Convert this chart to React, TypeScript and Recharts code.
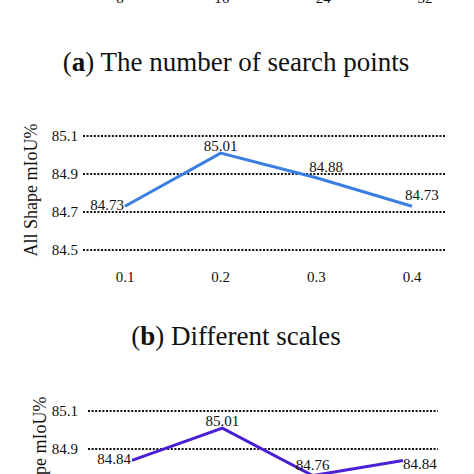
import React from "react";
import { LineChart, Line, XAxis, YAxis, CartesianGrid, LabelList, Label } from "recharts";

const pointCounts = ["8", "16", "24", "32"];
const scales = ["0.1", "0.2", "0.3", "0.4"];
const scaleMiou = [84.73, 85.01, 84.88, 84.73];
const thirdCats = ["a", "b", "c", "d"];
const thirdMiou = [84.84, 85.01, 84.76, 84.84];
const yTicks = [84.5, 84.7, 84.9, 85.1];
const yLabelText = "All Shape mIoU%";
const captionA = { tag: "a", text: " The number of search points" };
const captionB = { tag: "b", text: " Different scales" };

const dataA = pointCounts.map((c) => ({ cat: c }));
const dataB = scales.map((c, i) => ({ cat: c, v: scaleMiou[i] }));
const dataC = thirdCats.map((c, i) => ({ cat: c, v: thirdMiou[i] }));

const SERIF = "'Liberation Serif', 'Times New Roman', serif";
const CAPTION_FONT = "'Liberation Serif', serif";

type Place = "left" | "top" | "topRight" | "leftLow" | "bottomRight" | "topHigh";
const placesB: Place[] = ["left", "top", "topRight", "topRight"];
const placesC: Place[] = ["leftLow", "top", "topHigh", "bottomRight"];

const makeLabel = (places: Place[]) => (props: any) => {
  const { x, y, value, index } = props;
  const p = places[index];
  let tx = x;
  let ty = y;
  let anchor: "start" | "middle" | "end" = "middle";
  if (p === "left") { tx = x - 1; ty = y + 4; anchor = "end"; }
  else if (p === "leftLow") { tx = x - 1; ty = y + 4; anchor = "end"; }
  else if (p === "top") { ty = y - 2; anchor = "middle"; }
  else if (p === "topHigh") { ty = y - 6; anchor = "middle"; }
  else if (p === "topRight") { tx = x - 7; ty = y - 6; anchor = "start"; }
  else if (p === "bottomRight") { tx = x; ty = y + 9; anchor = "start"; }
  return (
    <text x={tx} y={ty} textAnchor={anchor} fontFamily={SERIF} fontSize={15} fill="#111">
      {Number(value).toFixed(2)}
    </text>
  );
};

const yLabel = (cx: number, dy: number) => (props: any) => {
  const vb = props.viewBox;
  const cy = vb.y + vb.height / 2 + dy;
  return (
    <text
      x={cx}
      y={cy}
      transform={`rotate(-90, ${cx}, ${cy})`}
      textAnchor="middle"
      dominantBaseline="central"
      fontFamily={SERIF}
      fontSize={18}
      fill="#111"
    >
      {yLabelText}
    </text>
  );
};

const tickStyle = { fontFamily: SERIF, fontSize: 15, fill: "#111" };

export default function App() {
  return (
    <div style={{ position: "absolute", top: 0, left: 0, width: 474, height: 474, overflow: "hidden", background: "#fff" }}>
      {/* top chart: only the bottom of its x-axis labels is in view */}
      <div style={{ position: "absolute", top: -26, left: 0 }}>
        <LineChart width={474} height={40} data={dataA} margin={{ top: 0, right: 49, bottom: 0, left: 120 }}>
          <XAxis dataKey="cat" axisLine={false} tickLine={false} tick={tickStyle} interval={0} />
        </LineChart>
      </div>

      <div style={{ position: "absolute", top: 0, left: 0 }}>
        <LineChart width={474} height={300} data={dataB} margin={{ top: 136, right: 29, bottom: 20, left: 0 }}>
          <CartesianGrid vertical={false} stroke="#111" strokeWidth={1.8} strokeDasharray="2 1.6" />
          <XAxis
            dataKey="cat"
            axisLine={false}
            tickLine={false}
            tick={tickStyle}
            tickSize={6}
            tickMargin={15}
            padding={{ left: 42, right: 33 }}
            interval={0}
          />
          <YAxis
            width={83}
            domain={[84.5, 85.1]}
            ticks={yTicks}
            axisLine={false}
            tickLine={false}
            tick={tickStyle}
            tickSize={3}
            tickMargin={2}
            tickFormatter={(v: number) => v.toFixed(1)}
          >
            <Label content={yLabel(31, -3)} />
          </YAxis>
          <Line type="linear" dataKey="v" stroke="#3a7ee0" strokeWidth={3} dot={false} isAnimationActive={false}>
            <LabelList dataKey="v" content={makeLabel(placesB)} />
          </Line>
        </LineChart>
      </div>

      <div style={{ position: "absolute", top: 300, left: 0 }}>
        <LineChart width={474} height={300} data={dataC} margin={{ top: 111, right: 36, bottom: 45, left: 0 }}>
          <CartesianGrid vertical={false} stroke="#111" strokeWidth={1.8} strokeDasharray="2 1.6" />
          <XAxis
            dataKey="cat"
            axisLine={false}
            tickLine={false}
            tick={false}
            padding={{ left: 44, right: 35 }}
            interval={0}
          />
          <YAxis
            width={88}
            domain={[84.5, 85.1]}
            ticks={yTicks}
            axisLine={false}
            tickLine={false}
            tick={tickStyle}
            tickSize={8}
            tickMargin={2}
            tickFormatter={(v: number) => v.toFixed(1)}
          >
            <Label content={yLabel(40, -5)} />
          </YAxis>
          <Line type="linear" dataKey="v" stroke="#4a20d6" strokeWidth={3} dot={false} isAnimationActive={false}>
            <LabelList dataKey="v" content={makeLabel(placesC)} />
          </Line>
        </LineChart>
      </div>

      <svg width={474} height={474} style={{ position: "absolute", top: 0, left: 0, pointerEvents: "none" }}>
        <text x={236} y={71} textAnchor="middle" fontFamily={CAPTION_FONT} fontSize={27} fill="#111">
          (<tspan fontWeight="bold">{captionA.tag}</tspan>){captionA.text}
        </text>
        <text x={236} y={345} textAnchor="middle" fontFamily={CAPTION_FONT} fontSize={27} fill="#111">
          (<tspan fontWeight="bold">{captionB.tag}</tspan>){captionB.text}
        </text>
      </svg>
    </div>
  );
}
